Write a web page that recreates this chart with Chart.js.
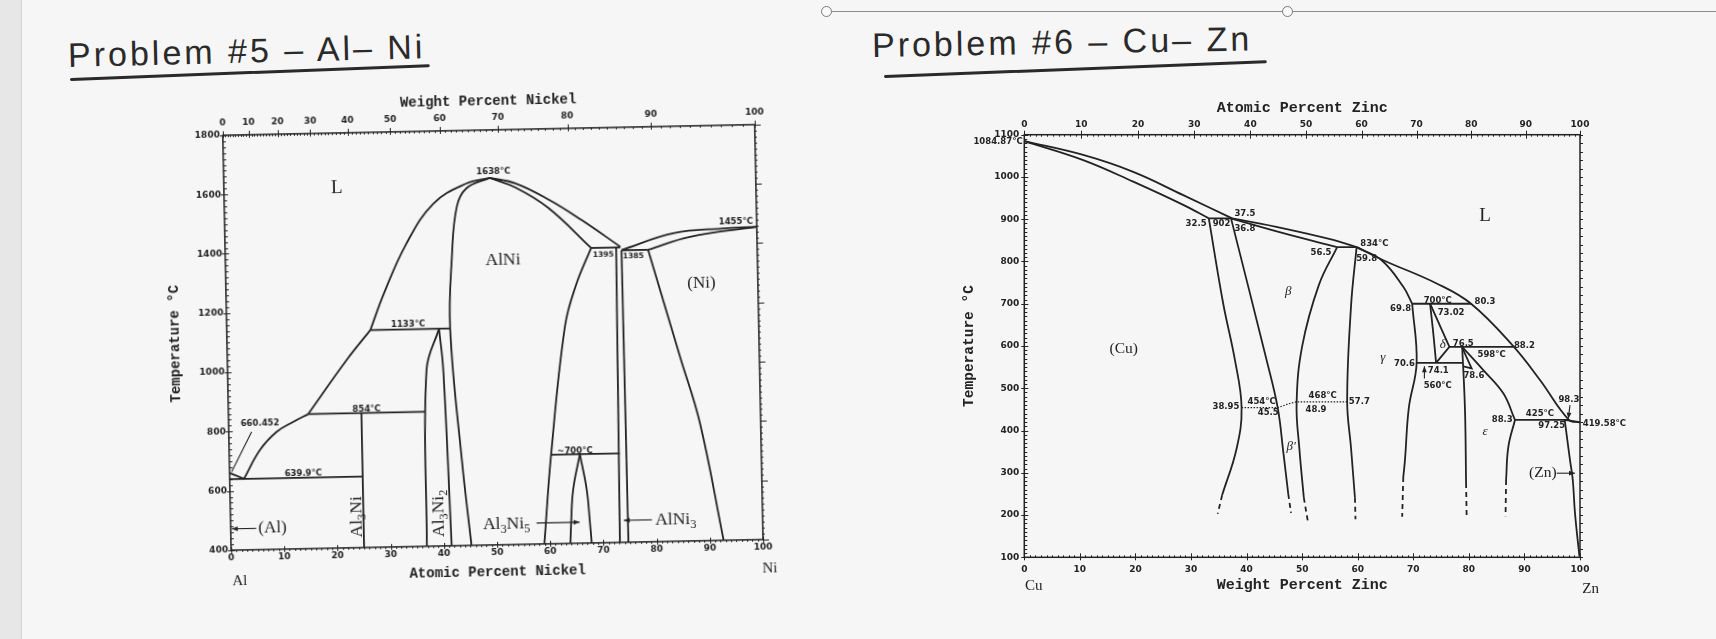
<!DOCTYPE html>
<html>
<head>
<meta charset="utf-8">
<script src="https://cdn.jsdelivr.net/npm/chart.js@4.4.1/dist/chart.umd.min.js"></script>
<style>
  html, body { margin: 0; padding: 0; }
  body { width: 1716px; height: 639px; background: #f6f6f6; position: relative; overflow: hidden; }
  .strip { position: absolute; left: 0; top: 0; width: 21px; height: 639px; background: #e7e7e7; border-right: 1px solid #d2d2d2; }
  .rule { position: absolute; left: 826px; top: 11px; width: 890px; border-top: 1px solid #8c8c8c; }
  .knob { position: absolute; top: 6px; width: 9px; height: 9px; border: 1.3px solid #7a7a7a; border-radius: 50%; background: #fafafa; }
  .hand { position: absolute; font-family: "Liberation Sans", sans-serif; font-size: 34px; line-height: 40px; color: #2a2a2a; letter-spacing: 3px; white-space: nowrap; transform-origin: 0 50%; }
  .under { position: absolute; height: 3px; background: #2a2a2a; border-radius: 2px; transform-origin: 0 50%; }
  canvas { position: absolute; }
  #alni { left: 130px; top: 80px; transform-origin: 362.9px 257.4px; transform: rotate(-1.15deg); }
  #cuzn { left: 900px; top: 80px; }
</style>
</head>
<body>
<div class="strip"></div>
<div class="rule"></div>
<div class="knob" style="left:821px"></div>
<div class="knob" style="left:1282px"></div>
<div class="hand" style="left:68px;top:35px;transform:rotate(-1.4deg)">Problem #5 – Al– Ni</div>
<div class="under" style="left:70px;top:78px;width:360px;transform:rotate(-2.2deg)"></div>
<div class="hand" style="left:872px;top:25px;transform:rotate(-1deg)">Problem #6 – Cu– Zn</div>
<div class="under" style="left:884px;top:75px;width:383px;transform:rotate(-2.2deg)"></div>
<canvas id="alni" width="700" height="540"></canvas>
<canvas id="cuzn" width="780" height="540"></canvas>
<script>
// ---------------------------------------------------------------
// Al-Ni  (x = atomic % Ni, y = °C)
// ---------------------------------------------------------------
const alNiAtTicks = [0, 10, 20, 30, 40, 50, 60, 70, 80, 90, 100];
const alNiWtTicks = [0, 10, 20, 30, 40, 50, 60, 70, 80, 90, 100];
const alNiTempTicks = [400, 600, 800, 1000, 1200, 1400, 1600, 1800];

const alNiLiquidusAl = [[0, 660.452], [2.7, 639.9]];
const alNiLiquidusA = [[2.7, 639.9], [5.8, 736], [9.0, 796], [12.2, 829], [15.0, 854]];
const alNiLiquidusB = [[15.0, 854], [22.4, 1033], [27.0, 1133]];
const alNiLiquidusC = [[27.0, 1133], [29.7, 1256], [34.0, 1419], [39.3, 1555], [45.6, 1621], [50.0, 1638]];
const alNiLiquidusD = [[50.0, 1638], [54.8, 1618], [61.0, 1561], [67.1, 1490], [74.3, 1397]];
const alNiLiquidusNi = [[74.5, 1386], [84.3, 1439], [93.7, 1452], [100, 1455]];
const alNiSolidusNi = [[79.5, 1385], [87.4, 1426], [100, 1455]];
const alNiSolvusNi = [[79.5, 1385], [85.1, 1022], [88.6, 796], [92.6, 400]];
const alNiAlNiLeft = [[50.0, 1638], [45.6, 1605], [43.7, 1543], [42.6, 1375], [42.0, 1133], [43.7, 690], [45.2, 400]];
const alNiAlNiRightTop = [[50.0, 1638], [54.8, 1604], [60.9, 1533], [68.8, 1395]];
const alNiAlNiRight = [[68.8, 1395], [65.8, 1270], [63.6, 1134], [60.5, 701], [58.9, 400]];
const alNiAl3Ni = [[25, 400], [25, 854]];
const alNiAl3Ni2Left = [[39.9, 1133], [37.4, 994], [36.8, 400]];
const alNiAl3Ni2Right = [[39.9, 1133], [40.55, 994], [41.47, 400]];
const alNiAl3Ni5Left = [[65.9, 700], [64.5, 580], [64.0, 467], [63.8, 400]];
const alNiAl3Ni5Right = [[65.9, 700], [67.06, 580], [67.55, 467], [67.8, 400]];
const alNiAlNi3Left = [[73.5, 1395], [73.1, 400]];
const alNiAlNi3Right = [[74.5, 1385], [74.7, 400]];
const alNiIsotherms = [
  [[0, 639.9], [25, 639.9]],
  [[15, 854], [36.9, 854]],
  [[27, 1133], [42, 1133]],
  [[68.8, 1395], [74.3, 1395]],
  [[74.5, 1385], [79.5, 1385]],
  [[60.5, 700], [73.4, 700]],
];

// ---------------------------------------------------------------
// Cu-Zn  (x = weight % Zn, y = °C)
// ---------------------------------------------------------------
const cuZnWtTicks = [0, 10, 20, 30, 40, 50, 60, 70, 80, 90, 100];
const cuZnAtTicks = [0, 10, 20, 30, 40, 50, 60, 70, 80, 90, 100];
const cuZnTempTicks = [100, 200, 300, 400, 500, 600, 700, 800, 900, 1000, 1100];

const cuZnLiquidusA = [[0, 1084.87], [10.6, 1052], [19.6, 1012], [28.6, 957], [37.4, 902]];
const cuZnLiquidusB = [[37.4, 902], [46.6, 878.5], [55.6, 851], [59.8, 834]];
const cuZnLiquidusC = [[59.8, 834], [64.6, 803], [74.2, 748], [80.4, 700], [88.1, 598], [92.8, 519.5], [98.0, 425], [100, 419.58]];
const cuZnSolidusCu = [[0, 1084.87], [10.6, 1040], [19.6, 989], [28.6, 934], [33.2, 902]];
const cuZnSolidusBeta = [[37.2, 902], [46.6, 867], [56.3, 834]];
const cuZnSolvusCu = [[33.2, 902], [35.8, 700], [37.9, 567], [39.1, 454], [38.2, 357], [35.6, 247]];
const cuZnSolvusCuLow = [[35.6, 247], [34.8, 203]];
const cuZnBetaLeft = [[37.2, 902], [43.6, 567], [45.6, 454], [46.6, 350], [47.5, 250]];
const cuZnBetaLeftLow = [[47.5, 250], [48.0, 205]];
const cuZnBetaRight = [[56.3, 834], [53.0, 744], [50.0, 599], [49.0, 464], [49.5, 357], [50.3, 241]];
const cuZnBetaRightLow = [[50.3, 241], [51.0, 187]];
const cuZnGammaLeft = [[59.8, 834], [58.8, 695], [58.1, 469], [58.8, 358], [59.5, 241]];
const cuZnGammaLeftLow = [[59.5, 241], [59.6, 190]];
const cuZnGammaRightTop = [[59.8, 834], [64.3, 803], [68.2, 740], [69.8, 700]];
const cuZnGammaRight = [[69.8, 700], [70.6, 560], [69.2, 454], [68.5, 330], [68.2, 290]];
const cuZnGammaRightLow = [[68.2, 290], [68.0, 196]];
const cuZnDeltaLeft = [[73.02, 700], [73.6, 630], [74.1, 560]];
const cuZnDeltaRight = [[73.02, 700], [76.5, 598], [74.1, 560]];
const cuZnEpsLeft = [[78.8, 598], [79.3, 450], [79.5, 276]];
const cuZnEpsLeftLow = [[79.5, 276], [79.6, 197]];
const cuZnEpsWedge = [[78.8, 596], [80.5, 547], [79.0, 552]];
const cuZnEpsSolidus = [[78.8, 598], [82.6, 543], [86.2, 488], [88.3, 425]];
const cuZnEpsRight = [[88.3, 425], [87.1, 361], [86.7, 283]];
const cuZnEpsRightLow = [[86.7, 283], [86.6, 197]];
const cuZnZnSolvus = [[97.25, 425], [98.2, 330], [98.7, 283], [99.1, 204], [99.9, 102]];
const cuZnZnSolidus = [[97.25, 425], [100, 419.58]];
const cuZnOrdering = [[39.1, 454], [45.6, 454], [47.5, 463], [49.0, 468], [58.1, 468]];
const cuZnIsotherms = [
  [[33.2, 902], [37.4, 902]],
  [[56.3, 834], [59.8, 834]],
  [[69.8, 700], [80.4, 700]],
  [[76.5, 598], [88.1, 598]],
  [[70.6, 560], [78.8, 560]],
  [[88.3, 425], [98.0, 425]],
];

const INK = '#232323';
const TICK_FONT = { family: '"DejaVu Sans"', size: 9, weight: 'bold' };
const FONTS = {
  num: { family: '"DejaVu Sans"', size: 8.5, weight: 'bold' },
  small: { family: '"DejaVu Sans"', size: 7.5, weight: 'bold' },
  serif: { family: '"Liberation Serif"', size: 15 },
  serifP: { family: '"Liberation Serif"', size: 17.5 },
  serifS: { family: '"Liberation Serif"', size: 15.5 },
  serifM: { family: '"Liberation Serif"', size: 17 },
  serifL: { family: '"Liberation Serif"', size: 19 },
  greek: { family: '"Liberation Serif"', size: 13, style: 'italic' },
};

// labels (data coordinates of each diagram)
const alNiNotes = [
  { t: 'L', x: 21.2, y: 1613, f: 'serifL' },
  { t: 'AlNi', x: 52.2, y: 1360, f: 'serifP' },
  { t: '(Ni)', x: 89.4, y: 1268, f: 'serifM' },
  { t: '1638°C', x: 50.7, y: 1659, f: 'num' },
  { t: '1133°C', x: 34.1, y: 1148, f: 'num' },
  { t: '854°C', x: 26.0, y: 867, f: 'num' },
  { t: '639.9°C', x: 13.85, y: 652, f: 'num' },
  { t: '660.452', x: 5.9, y: 826, f: 'num' },
  { t: '~700°C', x: 65.0, y: 712, f: 'num' },
  { t: '1395', x: 71.06, y: 1370, f: 'small' },
  { t: '1385', x: 76.7, y: 1363, f: 'small' },
  { t: '1455°C', x: 99.3, y: 1474, f: 'num', align: 'right' },
  { t: 'Al_3Ni', x: 23.7, y: 504, f: 'serifP', rot: -90 },
  { t: 'Al_3Ni_2', x: 39.1, y: 510, f: 'serifP', rot: -90 },
  { t: '(Al)', x: 5.2, y: 472, f: 'serifM', align: 'left' },
  { t: 'Al_3Ni_5', x: 56.3, y: 470, f: 'serifP', align: 'right' },
  { t: 'AlNi_3', x: 79.8, y: 474, f: 'serifP', align: 'left' },
  { t: 'Al', x: 1.5, y: 295, f: 'serif' },
  { t: 'Ni', x: 101.2, y: 300, f: 'serif' },
];
const alNiArrows = [
  { from: [4.3, 798], to: [0.4, 664.5] },
  { from: [4.8, 472], to: [0.2, 472], head: true },
  { from: [57.5, 471], to: [65.6, 471], head: true },
  { from: [79.2, 474], to: [73.9, 474], head: true },
];

const cuZnNotes = [
  { t: '1084.87°C', x: -0.3, y: 1084, f: 'num', align: 'right' },
  { t: '32.5', x: 32.8, y: 890, f: 'num', align: 'right' },
  { t: '902', x: 35.5, y: 889, f: 'num' },
  { t: '37.5', x: 39.7, y: 912, f: 'num' },
  { t: '36.8', x: 39.7, y: 877, f: 'num' },
  { t: '56.5', x: 53.4, y: 821, f: 'num' },
  { t: '834°C', x: 63.0, y: 842, f: 'num' },
  { t: '59.8', x: 61.6, y: 806, f: 'num' },
  { t: 'β', x: 47.5, y: 729, f: 'greek' },
  { t: 'L', x: 82.9, y: 908, f: 'serifL' },
  { t: '(Cu)', x: 17.9, y: 594, f: 'serifS' },
  { t: '700°C', x: 74.4, y: 707, f: 'num' },
  { t: '80.3', x: 82.9, y: 705, f: 'num' },
  { t: '69.8', x: 69.6, y: 689, f: 'num', align: 'right' },
  { t: '73.02', x: 76.8, y: 679, f: 'num' },
  { t: 'δ', x: 75.3, y: 604, f: 'greek' },
  { t: '76.5', x: 79.0, y: 606, f: 'num' },
  { t: '88.2', x: 90.0, y: 601, f: 'num' },
  { t: '598°C', x: 84.1, y: 580, f: 'num' },
  { t: 'γ', x: 64.5, y: 572, f: 'greek' },
  { t: '70.6', x: 70.3, y: 559, f: 'num', align: 'right' },
  { t: '74.1', x: 74.5, y: 542, f: 'num' },
  { t: '78.6', x: 80.9, y: 530, f: 'num' },
  { t: '560°C', x: 74.4, y: 505, f: 'num' },
  { t: '38.95', x: 38.7, y: 455, f: 'num', align: 'right' },
  { t: '454°C', x: 42.7, y: 469, f: 'num' },
  { t: '45.5', x: 43.9, y: 443, f: 'num' },
  { t: '468°C', x: 53.7, y: 481, f: 'num' },
  { t: '48.9', x: 52.5, y: 450, f: 'num' },
  { t: '57.7', x: 58.4, y: 469, f: 'num', align: 'left' },
  { t: "β'", x: 48.0, y: 363, f: 'greek' },
  { t: 'ε', x: 82.9, y: 397, f: 'greek' },
  { t: '88.3', x: 87.9, y: 425, f: 'num', align: 'right' },
  { t: '425°C', x: 92.8, y: 439, f: 'num' },
  { t: '97.25', x: 94.9, y: 411, f: 'num' },
  { t: '98.3', x: 98.0, y: 472, f: 'num' },
  { t: '419.58°C', x: 100.5, y: 415, f: 'num', align: 'left' },
  { t: '(Zn)', x: 93.3, y: 300, f: 'serifS' },
  { t: 'Cu', x: 1.7, y: 32, f: 'serif' },
  { t: 'Zn', x: 101.9, y: 25, f: 'serif' },
];
const cuZnArrows = [
  { from: [98.2, 460], to: [97.9, 428], head: true },
  { from: [72.0, 523], to: [72.0, 552], head: true },
  { from: [95.8, 299], to: [99.1, 299], head: true },
];

// composition conversions for the secondary (top) axes
const AL = 26.982, NI = 58.693, CU = 63.546, ZN = 65.38;
function niWtToAt(w) { const a = w / NI, b = (100 - w) / AL; return 100 * a / (a + b); }
function znAtToWt(a) { const p = a * ZN, q = (100 - a) * CU; return 100 * p / (p + q); }
function range(a, b, s) { const r = []; for (let v = a; v <= b + 1e-9; v += s) r.push(+v.toFixed(4)); return r; }

function fontStr(f, k) {
  return `${f.style || 'normal'} ${f.weight || 'normal'} ${f.size * (k || 1)}px ${f.family}`;
}

// text with "_3" style subscripts
function drawRich(ctx, text, x, y, f, align, rot) {
  const parts = text.split(/_(\d)/);
  ctx.save();
  ctx.translate(x, y);
  if (rot) ctx.rotate(rot * Math.PI / 180);
  let w = 0;
  const widths = parts.map((p, i) => {
    ctx.font = fontStr(f, i % 2 ? 0.7 : 1);
    const m = ctx.measureText(p).width; w += m; return m;
  });
  let cx = align === 'left' ? 0 : align === 'right' ? -w : -w / 2;
  ctx.textBaseline = 'middle';
  ctx.textAlign = 'left';
  ctx.fillStyle = INK;
  parts.forEach((p, i) => {
    ctx.font = fontStr(f, i % 2 ? 0.7 : 1);
    ctx.fillText(p, cx, i % 2 ? f.size * 0.32 : 0);
    cx += widths[i];
  });
  ctx.restore();
}

function drawArrow(ctx, x1, y1, x2, y2, head) {
  ctx.beginPath(); ctx.moveTo(x1, y1); ctx.lineTo(x2, y2); ctx.stroke();
  if (!head) return;
  const a = Math.atan2(y2 - y1, x2 - x1), L = 6, W = 2.4;
  ctx.beginPath();
  ctx.moveTo(x2, y2);
  ctx.lineTo(x2 - L * Math.cos(a) + W * Math.sin(a), y2 - L * Math.sin(a) - W * Math.cos(a));
  ctx.lineTo(x2 - L * Math.cos(a) - W * Math.sin(a), y2 - L * Math.sin(a) + W * Math.cos(a));
  ctx.closePath(); ctx.fill();
}

// frame box + minor / major tick marks, placed through the chart scales
function framePlugin(marks) {
  return {
    id: 'frame',
    afterDraw(chart) {
      const { ctx, chartArea: a } = chart;
      ctx.save();
      ctx.strokeStyle = INK;
      ctx.lineWidth = 1.5;
      ctx.strokeRect(a.left, a.top, a.right - a.left, a.bottom - a.top);
      ctx.lineWidth = 1;
      marks.forEach(m => {
        const s = chart.scales[m.scale];
        ctx.beginPath();
        m.values.forEach(v => {
          const p = Math.round(s.getPixelForValue(v)) + 0.5;
          if (m.side === 'bottom') { ctx.moveTo(p, a.bottom + m.out); ctx.lineTo(p, a.bottom - m.in); }
          if (m.side === 'top') { ctx.moveTo(p, a.top - m.out); ctx.lineTo(p, a.top + m.in); }
          if (m.side === 'left') { ctx.moveTo(a.left - m.out, p); ctx.lineTo(a.left + m.in, p); }
          if (m.side === 'right') { ctx.moveTo(a.right + m.out, p); ctx.lineTo(a.right - m.in, p); }
        });
        ctx.stroke();
      });
      ctx.restore();
    },
  };
}

function notesPlugin(items, arrows) {
  return {
    id: 'notes',
    afterDatasetsDraw(chart) {
      const { ctx } = chart;
      const xs = chart.scales.x, ys = chart.scales.y;
      ctx.save();
      ctx.strokeStyle = INK; ctx.fillStyle = INK; ctx.lineWidth = 1.1;
      arrows.forEach(r => drawArrow(ctx,
        xs.getPixelForValue(r.from[0]), ys.getPixelForValue(r.from[1]),
        xs.getPixelForValue(r.to[0]), ys.getPixelForValue(r.to[1]), r.head));
      items.forEach(n => drawRich(ctx, n.t, xs.getPixelForValue(n.x), ys.getPixelForValue(n.y),
        FONTS[n.f], n.align || 'center', n.rot || 0));
      ctx.restore();
    },
  };
}

function curve(points, extra) {
  return Object.assign({
    data: points.map(([x, y]) => ({ x, y })),
    showLine: true, fill: false, borderColor: INK, borderWidth: 1.8,
    pointRadius: 0, tension: 0.4,
  }, extra || {});
}
const straight = p => curve(p, { tension: 0 });
const dashed = p => curve(p, { tension: 0, borderDash: [5, 4] });

function fixedAxis(o) {
  const horizontal = o.position === 'top' || o.position === 'bottom';
  return {
    type: 'linear', position: o.position, min: o.min, max: o.max,
    afterBuildTicks: s => { s.ticks = o.list.map(v => ({ value: o.map ? o.map(v) : v })); },
    afterFit: s => { if (horizontal) s.height = o.size; else s.width = o.size; },
    grid: { display: false, drawTicks: false },
    border: { display: false },
    ticks: {
      autoSkip: false, maxRotation: 0, minRotation: 0, padding: o.tickPad,
      color: INK, font: TICK_FONT, callback: (v, i) => String(o.list[i]),
    },
    title: {
      display: true, text: o.title, color: INK,
      font: { family: '"Liberation Mono"', size: o.titleSize, weight: 'bold' },
      padding: o.position === 'bottom' ? { top: 0, bottom: o.titlePad } : { top: o.titlePad, bottom: 0 },
    },
  };
}

function baseOptions(rightPad, scales) {
  return {
    responsive: false, animation: false, devicePixelRatio: 1, events: [],
    layout: { autoPadding: false, padding: { left: 0, top: 0, bottom: 0, right: rightPad } },
    plugins: { legend: { display: false }, tooltip: { enabled: false } },
    scales,
  };
}

// ---------------- Al-Ni chart ----------------
new Chart(document.getElementById('alni'), {
  type: 'scatter',
  data: {
    datasets: [
      straight(alNiLiquidusAl), curve(alNiLiquidusA), curve(alNiLiquidusB), curve(alNiLiquidusC),
      curve(alNiLiquidusD), curve(alNiLiquidusNi), curve(alNiSolidusNi), curve(alNiSolvusNi),
      curve(alNiAlNiLeft), curve(alNiAlNiRightTop), curve(alNiAlNiRight),
      straight(alNiAl3Ni), curve(alNiAl3Ni2Left), curve(alNiAl3Ni2Right),
      curve(alNiAl3Ni5Left), curve(alNiAl3Ni5Right), straight(alNiAlNi3Left), straight(alNiAlNi3Right),
      ...alNiIsotherms.map(straight),
    ],
  },
  options: baseOptions(71.1, {
    x: fixedAxis({ position: 'bottom', min: 0, max: 100, list: alNiAtTicks, size: 75.1, tickPad: 2,
      title: 'Atomic Percent Nickel', titleSize: 14, titlePad: 39.5 }),
    x2: fixedAxis({ position: 'top', min: 0, max: 100, list: alNiWtTicks, map: niWtToAt, size: 49.9, tickPad: 7,
      title: 'Weight Percent Nickel', titleSize: 14, titlePad: 13.3 }),
    y: fixedAxis({ position: 'left', min: 400, max: 1800, list: alNiTempTicks, size: 96.9, tickPad: 3,
      title: 'Temperature °C', titleSize: 14, titlePad: 37.4 }),
  }),
  plugins: [
    framePlugin([
      { scale: 'x', side: 'bottom', values: range(0, 100, 1), in: 0, out: 2 },
      { scale: 'x', side: 'bottom', values: alNiAtTicks, in: 3, out: 3 },
      { scale: 'x2', side: 'top', values: range(0, 100, 1).map(niWtToAt), in: 2, out: 0 },
      { scale: 'x2', side: 'top', values: alNiWtTicks.map(niWtToAt), in: 3, out: 4 },
      { scale: 'y', side: 'left', values: range(400, 1800, 20), in: 3, out: 0 },
      { scale: 'y', side: 'left', values: alNiTempTicks, in: 4, out: 3 },
      { scale: 'y', side: 'right', values: range(400, 1800, 20), in: 0, out: 2 },
      { scale: 'y', side: 'right', values: range(400, 1800, 200), in: 0, out: 6 },
    ]),
    notesPlugin(alNiNotes, alNiArrows),
  ],
});

// ---------------- Cu-Zn chart ----------------
new Chart(document.getElementById('cuzn'), {
  type: 'scatter',
  data: {
    datasets: [
      curve(cuZnLiquidusA), curve(cuZnLiquidusB), curve(cuZnLiquidusC),
      curve(cuZnSolidusCu), curve(cuZnSolidusBeta),
      curve(cuZnSolvusCu), dashed(cuZnSolvusCuLow),
      curve(cuZnBetaLeft), dashed(cuZnBetaLeftLow),
      curve(cuZnBetaRight), dashed(cuZnBetaRightLow),
      curve(cuZnGammaLeft), dashed(cuZnGammaLeftLow),
      curve(cuZnGammaRightTop), curve(cuZnGammaRight), dashed(cuZnGammaRightLow),
      curve(cuZnDeltaLeft), straight(cuZnDeltaRight),
      curve(cuZnEpsLeft), dashed(cuZnEpsLeftLow), straight(cuZnEpsWedge),
      curve(cuZnEpsSolidus), curve(cuZnEpsRight), dashed(cuZnEpsRightLow),
      curve(cuZnZnSolvus), straight(cuZnZnSolidus),
      curve(cuZnOrdering, { tension: 0, borderWidth: 1.2, borderDash: [1.5, 1.5] }),
      ...cuZnIsotherms.map(straight),
    ],
  },
  options: baseOptions(100, {
    x: fixedAxis({ position: 'bottom', min: 0, max: 100, list: cuZnWtTicks, size: 62.7, tickPad: 7,
      title: 'Weight Percent Zinc', titleSize: 15, titlePad: 25.4 }),
    x2: fixedAxis({ position: 'top', min: 0, max: 100, list: cuZnAtTicks, map: znAtToWt, size: 54.7, tickPad: 4.5,
      title: 'Atomic Percent Zinc', titleSize: 15, titlePad: 19 }),
    y: fixedAxis({ position: 'left', min: 100, max: 1100, list: cuZnTempTicks, size: 124.3, tickPad: 5,
      title: 'Temperature °C', titleSize: 14.5, titlePad: 60.5 }),
  }),
  plugins: [
    framePlugin([
      { scale: 'x', side: 'bottom', values: range(0, 100, 1), in: 2, out: 0 },
      { scale: 'x', side: 'bottom', values: cuZnWtTicks, in: 4, out: 3 },
      { scale: 'x2', side: 'top', values: range(0, 100, 1).map(znAtToWt), in: 2, out: 0 },
      { scale: 'x2', side: 'top', values: cuZnAtTicks.map(znAtToWt), in: 4, out: 4 },
      { scale: 'y', side: 'left', values: range(100, 1100, 10), in: 3, out: 0 },
      { scale: 'y', side: 'left', values: cuZnTempTicks, in: 4, out: 3 },
      { scale: 'y', side: 'right', values: range(100, 1100, 20), in: 0, out: 3 },
    ]),
    notesPlugin(cuZnNotes, cuZnArrows),
  ],
});
</script>
</body>
</html>
